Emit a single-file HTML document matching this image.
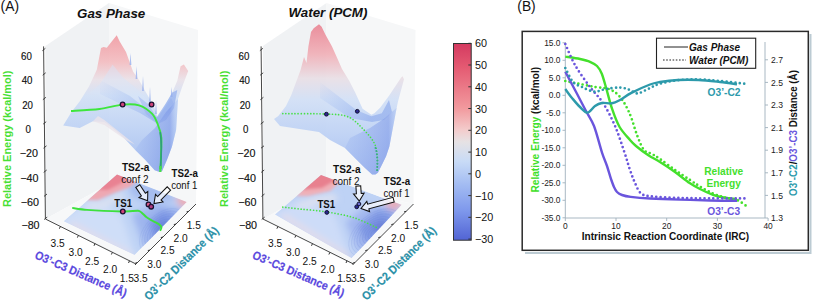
<!DOCTYPE html>
<html><head><meta charset="utf-8"><style>
html,body{margin:0;padding:0;background:#fff;}
svg{display:block;font-family:"Liberation Sans", sans-serif;}
</style></head><body>
<svg width="813" height="304" viewBox="0 0 813 304">
<text x="0.6" y="10.6" font-size="13.8" fill="#111">(A)</text>
<defs>
<linearGradient id="gs1" gradientUnits="userSpaceOnUse" x1="0" y1="35" x2="0" y2="170">
 <stop offset="0" stop-color="#f0949c"/><stop offset="0.2" stop-color="#f3b8bc"/>
 <stop offset="0.33" stop-color="#e9dfe6"/><stop offset="0.45" stop-color="#d0dff6"/>
 <stop offset="0.7" stop-color="#b8cef4"/><stop offset="1" stop-color="#9ab5ee"/></linearGradient>
<linearGradient id="ws1" gradientUnits="userSpaceOnUse" x1="0" y1="24" x2="0" y2="175">
 <stop offset="0" stop-color="#e97c8c"/><stop offset="0.2" stop-color="#f0aab2"/>
 <stop offset="0.36" stop-color="#e8dde4"/><stop offset="0.5" stop-color="#cfdef6"/>
 <stop offset="0.75" stop-color="#b6ccf4"/><stop offset="1" stop-color="#98b2ee"/></linearGradient>
<linearGradient id="rpk" gradientUnits="userSpaceOnUse" x1="0" y1="64" x2="0" y2="118">
 <stop offset="0" stop-color="#f0909a"/><stop offset="0.4" stop-color="#eed0d6"/>
 <stop offset="0.7" stop-color="#cbdaf4"/><stop offset="1" stop-color="#b4c8f2"/></linearGradient>
<linearGradient id="fun" gradientUnits="userSpaceOnUse" x1="130" y1="0" x2="180" y2="0">
 <stop offset="0" stop-color="#c7daf7"/><stop offset="0.6" stop-color="#a8c0f2"/><stop offset="1" stop-color="#8ea9ec"/></linearGradient>
<linearGradient id="cb" x1="0" y1="0" x2="0" y2="1">
 <stop offset="0" stop-color="#d43a60"/><stop offset="0.12" stop-color="#e45a72"/>
 <stop offset="0.33" stop-color="#f29a9e"/><stop offset="0.44" stop-color="#f3cccc"/>
 <stop offset="0.50" stop-color="#e6e2e4"/><stop offset="0.60" stop-color="#c8dbf6"/>
 <stop offset="0.72" stop-color="#a2bbf2"/><stop offset="0.85" stop-color="#7e98ec"/>
 <stop offset="1" stop-color="#5264d4"/></linearGradient>
<radialGradient id="rb1" cx="0.5" cy="0.5" r="0.5"><stop offset="0" stop-color="#f2a3ab"/><stop offset="1" stop-color="#f2a3ab" stop-opacity="0"/></radialGradient>
<radialGradient id="db1" cx="0.5" cy="0.5" r="0.5"><stop offset="0" stop-color="#6f8ee2"/><stop offset="0.6" stop-color="#94acec"/><stop offset="1" stop-color="#94acec" stop-opacity="0"/></radialGradient>
<radialGradient id="wb1" cx="0.5" cy="0.5" r="0.5"><stop offset="0" stop-color="#ece6ee"/><stop offset="1" stop-color="#ece6ee" stop-opacity="0"/></radialGradient>
<filter id="blur15" x="-20%" y="-20%" width="140%" height="140%"><feGaussianBlur stdDeviation="1.8"/></filter>
<filter id="blur3" x="-20%" y="-20%" width="140%" height="140%"><feGaussianBlur stdDeviation="3"/></filter>
</defs>
<polygon points="45.4,46.0 109.0,3.0 109.0,184.0 45.4,219.0" fill="#f0f2f4"/>
<polygon points="109.0,3.0 198.0,30.0 196.0,204.0 109.0,184.0" fill="#f6f7f8"/>
<polygon points="45.4,219.0 109.0,184.0 196.0,204.0 135.0,265.0" fill="#f7f8f9"/>
<clipPath id="flg"><polygon points="63.8,221.2 117.0,174.5 186.7,202.1 134.6,255.0"/></clipPath>
<g clip-path="url(#flg)">
<polygon points="63.8,221.2 117.0,174.5 186.7,202.1 134.6,255.0" fill="#bfd3f5"/>
<g filter="url(#blur3)">
<polygon points="58.0,222.0 90.0,200.0 120.0,212.0 136.0,258.0 100.0,245.0" fill="#cfdef8"/>
<polygon points="70.0,226.0 134.6,258.0 130.0,252.0 72.0,222.0" fill="#e8dce6"/>
<polygon points="128.0,183.0 160.0,186.0 178.0,200.0 150.0,204.0 132.0,196.0" fill="#a6bdef"/>
<polygon points="132.0,214.0 156.0,204.0 182.0,208.0 178.0,244.0 146.0,252.0" fill="#9fb6ee"/>
<polygon points="148.0,222.0 162.0,210.0 176.0,214.0 170.0,240.0 154.0,244.0" fill="#809ae6"/>
<polygon points="155.0,226.0 164.0,218.0 170.0,222.0 165.0,234.0 158.0,236.0" fill="#6c86dc"/>
<polygon points="175.0,197.0 190.0,196.0 192.0,205.0 181.0,207.0" fill="#f0aab2"/>
<polygon points="86.0,203.0 104.0,200.0 120.0,193.0 126.0,197.0 108.0,206.0 90.0,208.0" fill="#dde2f0"/>
</g>
<g filter="url(#blur15)">
<polygon points="86.0,200.0 117.0,168.0 140.0,178.0 130.0,187.0 114.0,193.0 98.0,200.0" fill="#eea8b2"/>
<polygon points="98.0,190.0 117.0,168.0 132.0,175.0 122.0,183.0 108.0,190.0" fill="#e98292"/>
</g>
<ellipse cx="162" cy="231" rx="5.0" ry="3.0" transform="rotate(-45 162 231)" fill="none" stroke="#6a84da" stroke-opacity="0.40" stroke-width="0.6"/>
<ellipse cx="162" cy="231" rx="8.2" ry="4.9" transform="rotate(-45 162 231)" fill="none" stroke="#6a84da" stroke-opacity="0.37" stroke-width="0.6"/>
<ellipse cx="162" cy="231" rx="11.4" ry="6.8" transform="rotate(-45 162 231)" fill="none" stroke="#6a84da" stroke-opacity="0.34" stroke-width="0.6"/>
<ellipse cx="162" cy="231" rx="14.6" ry="8.8" transform="rotate(-45 162 231)" fill="none" stroke="#6a84da" stroke-opacity="0.31" stroke-width="0.6"/>
<ellipse cx="162" cy="231" rx="17.8" ry="10.7" transform="rotate(-45 162 231)" fill="none" stroke="#6a84da" stroke-opacity="0.28" stroke-width="0.6"/>
<ellipse cx="162" cy="231" rx="21.0" ry="12.6" transform="rotate(-45 162 231)" fill="none" stroke="#6a84da" stroke-opacity="0.25" stroke-width="0.6"/>
<ellipse cx="162" cy="231" rx="24.2" ry="14.5" transform="rotate(-45 162 231)" fill="none" stroke="#6a84da" stroke-opacity="0.22" stroke-width="0.6"/>
<ellipse cx="162" cy="231" rx="27.4" ry="16.4" transform="rotate(-45 162 231)" fill="none" stroke="#6a84da" stroke-opacity="0.19" stroke-width="0.6"/>
</g>
<path d="M72.2,207.9 C73.7,208.1 82.0,209.5 87.0,209.9 C92.0,210.3 117.1,211.4 122.2,211.5 C127.3,211.6 136.1,210.7 138.0,210.8 C139.9,210.9 140.6,211.8 141.5,212.5 C142.4,213.2 145.5,216.5 146.6,217.3 C147.7,218.1 150.8,219.8 152.0,220.5 C153.2,221.2 157.9,223.4 158.8,224.1 C159.8,224.8 161.4,226.8 161.5,227.5 C161.6,228.2 160.2,230.6 160.1,230.9" fill="none" stroke="#3ee03e" stroke-width="1.9"/>
<circle cx="122.8" cy="211.5" r="2.3" fill="#d0457a" stroke="#1a1030" stroke-width="1.3"/>
<circle cx="148.5" cy="204.4" r="2.3" fill="#e05a8a" stroke="#1a1030" stroke-width="1.3"/>
<circle cx="151.2" cy="206.7" r="2.3" fill="#b03a80" stroke="#1a1030" stroke-width="1.3"/>
<polygon points="63.2,125.5 71.5,112.0 80.0,101.0 89.0,86.5 96.8,69.7 101.0,48.0 103.6,47.1 106.8,47.8 116.7,35.3 119.7,41.5 126.0,52.0 133.0,71.5 139.0,80.0 144.6,90.0 153.8,106.0 157.6,117.2 159.5,116.3 166.4,102.5 172.3,92.6 177.3,80.8 180.6,66.2 183.9,64.5 188.2,71.0 182.2,86.7 178.0,99.0 176.1,130.0 172.0,146.4 167.1,159.6 162.1,171.1 159.7,172.0 154.7,170.3 144.9,159.6 135.0,149.7 124.0,138.0 112.6,128.0 104.4,122.0 92.9,121.3 79.7,128.0" fill="url(#gs1)" fill-opacity="0.85"/>
<defs><linearGradient id="band" gradientUnits="userSpaceOnUse" x1="100" y1="80" x2="160" y2="118"><stop offset="0" stop-color="#aac2f2" stop-opacity="0"/><stop offset="0.5" stop-color="#aac2f2" stop-opacity="0.5"/><stop offset="1" stop-color="#9ab4ee" stop-opacity="0.8"/></linearGradient></defs>
<polygon points="112.6,64.5 123.0,77.6 139.0,90.8 150.0,104.0 157.6,117.2 140.0,112.0 110.0,98.0 90.0,93.0 100.0,84.0" fill="#d8e4f8" fill-opacity="0.45"/>
<polygon points="100.0,80.0 130.0,96.0 156.6,117.3 166.4,102.5 172.3,92.6 177.3,90.0 174.0,108.0 166.0,120.0 158.0,124.0 140.0,113.0 100.0,94.0" fill="url(#band)"/>
<polygon points="138.0,96.0 148.0,104.0 157.2,117.6 163.0,110.0 171.0,98.0 174.0,104.0 166.0,116.0 158.0,124.0 146.0,114.0" fill="#93adee" fill-opacity="0.45"/>
<polygon points="129.6,65.0 130.5,53.0 131.4,65.0" fill="#93acee" fill-opacity="0.75"/>
<polygon points="135.6,79.0 136.5,66.0 137.4,79.0" fill="#93acee" fill-opacity="0.75"/>
<polygon points="142.1,91.0 143.0,76.0 143.9,91.0" fill="#93acee" fill-opacity="0.75"/>
<polygon points="149.1,103.0 150.0,87.0 150.9,103.0" fill="#93acee" fill-opacity="0.75"/>
<polygon points="155.1,114.0 156.0,100.0 156.9,114.0" fill="#93acee" fill-opacity="0.75"/>
<polygon points="170.7,97.0 171.6,87.0 172.5,97.0" fill="#93acee" fill-opacity="0.75"/>
<polygon points="92.9,121.3 98.0,116.0 104.4,120.0 135.0,144.4 126.0,140.0 104.4,125.0" fill="#ebe3ea" fill-opacity="0.8"/>
<defs><linearGradient id="fung" gradientUnits="userSpaceOnUse" x1="135" y1="0" x2="176" y2="0"><stop offset="0" stop-color="#a8c0f2" stop-opacity="0.5"/><stop offset="0.55" stop-color="#8aa4ea" stop-opacity="0.6"/><stop offset="0.85" stop-color="#7f9ae8" stop-opacity="0.65"/><stop offset="1" stop-color="#a8c0f2" stop-opacity="0.4"/></linearGradient></defs>
<polygon points="159.7,172.0 154.7,170.3 144.9,159.6 135.0,149.7 142.0,140.0 155.0,128.0 166.0,112.0 178.0,99.0 176.1,130.0 172.0,146.4 167.1,159.6 162.1,171.1" fill="url(#fung)"/>
<path d="M71.0,111.0 C75.8,110.7 90.9,110.1 99.5,109.0 C108.1,107.9 116.0,105.2 122.6,104.6 C129.2,104.0 134.1,103.8 139.0,105.3 C143.9,106.8 148.8,110.4 152.0,113.7 C155.2,117.0 156.4,121.0 158.0,125.0 C159.6,128.9 160.8,132.4 161.3,137.4 C161.8,142.4 161.1,149.7 161.0,155.0 C160.9,160.3 160.6,166.7 160.5,169.0" fill="none" stroke="#3ee63e" stroke-width="1.9"/>
<path d="M160.2,132 C161.5,140 161.5,155 160.5,169" fill="none" stroke="#2fa07a" stroke-width="1.7"/>
<path d="M160.5,166 L160.3,172" stroke="#44e044" stroke-width="2.2"/>
<circle cx="122.6" cy="104.5" r="2.3" fill="#d0457a" stroke="#1a1030" stroke-width="1.3"/>
<circle cx="151.6" cy="104.5" r="2.3" fill="#d0457a" stroke="#1a1030" stroke-width="1.3"/>
<polygon points="262.9,46.0 326.5,3.0 326.5,184.0 262.9,219.0" fill="#f0f2f4"/>
<polygon points="326.5,3.0 415.5,30.0 413.5,204.0 326.5,184.0" fill="#f6f7f8"/>
<polygon points="262.9,219.0 326.5,184.0 413.5,204.0 352.5,265.0" fill="#f7f8f9"/>
<clipPath id="flw"><polygon points="275.0,214.5 321.0,175.0 401.7,204.7 351.6,258.3"/></clipPath>
<g clip-path="url(#flw)">
<polygon points="275.0,214.5 321.0,175.0 401.7,204.7 351.6,258.3" fill="#bed2f5"/>
<g filter="url(#blur3)">
<polygon points="270.0,215.0 300.0,200.0 335.0,215.0 350.0,258.0 310.0,240.0" fill="#cddcf8"/>
<polygon points="282.0,218.0 351.6,261.0 348.0,254.0 284.0,214.0" fill="#e8dce6"/>
<polygon points="346.0,222.0 368.0,204.0 398.0,208.0 390.0,246.0 358.0,252.0" fill="#a3b8ef"/>
<polygon points="358.0,226.0 378.0,210.0 394.0,214.0 386.0,240.0 366.0,244.0" fill="#8099e4"/>
<polygon points="370.0,228.0 382.0,220.0 388.0,224.0 381.0,236.0" fill="#6a80d8"/>
<polygon points="383.0,203.0 396.0,199.0 405.0,205.0 392.0,210.0" fill="#f0aab2"/>
<polygon points="296.0,203.0 315.0,197.0 335.0,194.0 338.0,200.0 318.0,204.0 300.0,208.0" fill="#dfe2f0"/>
</g>
<g filter="url(#blur15)">
<polygon points="296.0,196.0 321.0,170.0 340.0,182.0 330.0,191.0 308.0,196.0" fill="#efb0b8"/>
<polygon points="302.0,190.0 321.0,170.0 336.0,180.0 322.0,188.0" fill="#e8808e"/>
</g>
<ellipse cx="375" cy="233" rx="5.0" ry="3.0" transform="rotate(-40 375 233)" fill="none" stroke="#6a84da" stroke-opacity="0.45" stroke-width="0.6"/>
<ellipse cx="375" cy="233" rx="8.2" ry="4.9" transform="rotate(-40 375 233)" fill="none" stroke="#6a84da" stroke-opacity="0.42" stroke-width="0.6"/>
<ellipse cx="375" cy="233" rx="11.4" ry="6.8" transform="rotate(-40 375 233)" fill="none" stroke="#6a84da" stroke-opacity="0.39" stroke-width="0.6"/>
<ellipse cx="375" cy="233" rx="14.6" ry="8.8" transform="rotate(-40 375 233)" fill="none" stroke="#6a84da" stroke-opacity="0.36" stroke-width="0.6"/>
<ellipse cx="375" cy="233" rx="17.8" ry="10.7" transform="rotate(-40 375 233)" fill="none" stroke="#6a84da" stroke-opacity="0.33" stroke-width="0.6"/>
<ellipse cx="375" cy="233" rx="21.0" ry="12.6" transform="rotate(-40 375 233)" fill="none" stroke="#6a84da" stroke-opacity="0.30" stroke-width="0.6"/>
<ellipse cx="375" cy="233" rx="24.2" ry="14.5" transform="rotate(-40 375 233)" fill="none" stroke="#6a84da" stroke-opacity="0.27" stroke-width="0.6"/>
<ellipse cx="375" cy="233" rx="27.4" ry="16.4" transform="rotate(-40 375 233)" fill="none" stroke="#6a84da" stroke-opacity="0.24" stroke-width="0.6"/>
<ellipse cx="375" cy="233" rx="30.6" ry="18.4" transform="rotate(-40 375 233)" fill="none" stroke="#6a84da" stroke-opacity="0.21" stroke-width="0.6"/>
</g>
<path d="M282.8,207.1 C285.7,207.4 292.9,208.2 300.0,209.0 C307.1,209.8 316.7,210.3 325.6,211.7 C334.5,213.1 345.0,215.0 353.5,217.6 C362.0,220.2 372.8,225.8 376.6,227.5" fill="none" stroke="#48e048" stroke-width="1.7" stroke-dasharray="0,3.1" stroke-linecap="round"/>
<circle cx="326.8" cy="212.4" r="1.9" fill="#2a2a90" stroke="#101030" stroke-width="1"/>
<circle cx="358.9" cy="204" r="1.9" fill="#6a6ad0" stroke="#101030" stroke-width="1"/>
<circle cx="356.7" cy="206.8" r="1.9" fill="#2a2a90" stroke="#101030" stroke-width="1"/>
<polygon points="274.0,119.0 278.3,116.0 286.0,106.0 291.3,95.0 296.6,80.8 300.5,70.3 304.0,57.0 306.5,63.0 308.4,46.6 311.0,32.0 313.7,28.2 319.0,24.2 321.6,26.8 325.5,34.7 332.0,46.6 337.4,58.4 342.0,69.0 349.2,80.7 355.2,92.6 362.6,108.8 371.4,114.8 374.4,113.3 380.3,107.4 389.2,95.5 401.0,77.8 402.5,76.3 404.0,79.2 398.0,101.4 396.7,107.8 392.2,131.5 389.4,146.4 386.1,156.3 382.8,162.9 377.9,172.8 375.4,174.4 372.1,174.4 364.7,167.8 354.9,158.0 345.0,148.1 330.0,140.0 319.0,132.0 280.0,126.0" fill="url(#ws1)" fill-opacity="0.85"/>
<defs><linearGradient id="bandw" gradientUnits="userSpaceOnUse" x1="320" y1="80" x2="372" y2="116"><stop offset="0" stop-color="#aac2f2" stop-opacity="0"/><stop offset="0.5" stop-color="#aac2f2" stop-opacity="0.5"/><stop offset="1" stop-color="#9ab4ee" stop-opacity="0.8"/></linearGradient></defs>
<polygon points="320.0,82.0 356.6,110.3 371.4,116.2 381.8,113.3 389.0,100.0 392.0,112.0 384.0,120.0 372.0,122.0 350.0,118.0 320.0,98.0" fill="url(#bandw)"/>
<defs><linearGradient id="funw" gradientUnits="userSpaceOnUse" x1="345" y1="0" x2="396" y2="0"><stop offset="0" stop-color="#a8c0f2" stop-opacity="0.5"/><stop offset="0.6" stop-color="#8aa4ea" stop-opacity="0.55"/><stop offset="0.85" stop-color="#7f9ae8" stop-opacity="0.6"/><stop offset="1" stop-color="#a8c0f2" stop-opacity="0.4"/></linearGradient></defs>
<polygon points="372.1,174.4 364.7,167.8 354.9,158.0 345.0,148.1 350.0,138.0 370.0,128.0 385.0,118.0 396.7,107.8 392.2,131.5 389.4,146.4 386.1,156.3 382.8,162.9 377.9,172.8 375.4,174.4" fill="url(#funw)"/>
<path d="M282.8,113.6 C290.0,113.7 315.2,113.5 326.0,114.0 C336.8,114.5 341.7,114.3 347.8,116.7 C353.9,119.1 358.2,124.1 362.6,128.5 C367.0,132.9 371.9,138.4 374.4,143.3 C376.9,148.2 377.0,153.2 377.4,158.0 C377.8,162.8 377.1,169.7 377.0,172.0" fill="none" stroke="#48e048" stroke-width="1.7" stroke-dasharray="0,3.1" stroke-linecap="round"/>
<path d="M375.5,148 C377.5,155 377.6,162 377,172" fill="none" stroke="#3aa88a" stroke-width="1.9" stroke-dasharray="0,3.2" stroke-linecap="round"/>
<circle cx="326.4" cy="114.2" r="1.9" fill="#2a2a90" stroke="#101030" stroke-width="1"/>
<circle cx="357.3" cy="111.3" r="1.9" fill="#2a2a90" stroke="#101030" stroke-width="1"/>
<line x1="43.6" y1="46.4" x2="45.4" y2="219" stroke="#333" stroke-width="0.9"/>
<line x1="42.4" y1="50.7" x2="45.4" y2="48.3" stroke="#333" stroke-width="0.9"/>
<text x="21.1" y="59.8" font-size="10.3" fill="#111" stroke="#111" stroke-width="0.15" textLength="10.8" lengthAdjust="spacingAndGlyphs">60</text>
<line x1="42.7" y1="75.2" x2="45.7" y2="72.8" stroke="#333" stroke-width="0.9"/>
<text x="21.7" y="84.3" font-size="10.3" fill="#111" stroke="#111" stroke-width="0.15" textLength="10.8" lengthAdjust="spacingAndGlyphs">40</text>
<line x1="42.9" y1="99.7" x2="45.9" y2="97.3" stroke="#333" stroke-width="0.9"/>
<text x="22.2" y="108.8" font-size="10.3" fill="#111" stroke="#111" stroke-width="0.15" textLength="10.8" lengthAdjust="spacingAndGlyphs">20</text>
<line x1="43.2" y1="124.1" x2="46.2" y2="121.7" stroke="#333" stroke-width="0.9"/>
<text x="25.5" y="133.2" font-size="10.3" fill="#111" stroke="#111" stroke-width="0.15" textLength="5.4" lengthAdjust="spacingAndGlyphs">0</text>
<line x1="43.5" y1="148.2" x2="46.5" y2="145.8" stroke="#333" stroke-width="0.9"/>
<text x="19.7" y="157.3" font-size="10.3" fill="#111" stroke="#111" stroke-width="0.15" textLength="18.2" lengthAdjust="spacingAndGlyphs">−20</text>
<line x1="43.7" y1="172.4" x2="46.7" y2="170.0" stroke="#333" stroke-width="0.9"/>
<text x="20.2" y="181.5" font-size="10.3" fill="#111" stroke="#111" stroke-width="0.15" textLength="18.2" lengthAdjust="spacingAndGlyphs">−40</text>
<line x1="44.0" y1="196.4" x2="47.0" y2="194.0" stroke="#333" stroke-width="0.9"/>
<text x="20.8" y="205.5" font-size="10.3" fill="#111" stroke="#111" stroke-width="0.15" textLength="18.2" lengthAdjust="spacingAndGlyphs">−60</text>
<line x1="44.2" y1="219.5" x2="47.2" y2="217.1" stroke="#333" stroke-width="0.9"/>
<text x="21.4" y="228.6" font-size="10.3" fill="#111" stroke="#111" stroke-width="0.15" textLength="18.2" lengthAdjust="spacingAndGlyphs">−80</text>
<line x1="45.4" y1="219" x2="136" y2="264" stroke="#333" stroke-width="0.9"/>
<line x1="196" y1="204" x2="135" y2="265" stroke="#333" stroke-width="0.9"/>
<line x1="60.4" y1="226.5" x2="59.4" y2="228.7" stroke="#333" stroke-width="1"/>
<line x1="78.4" y1="235.4" x2="77.4" y2="237.6" stroke="#333" stroke-width="1"/>
<line x1="95.0" y1="243.6" x2="94.0" y2="245.8" stroke="#333" stroke-width="1"/>
<line x1="112.4" y1="252.3" x2="111.4" y2="254.5" stroke="#333" stroke-width="1"/>
<line x1="129.5" y1="260.8" x2="128.5" y2="263.0" stroke="#333" stroke-width="1"/>
<line x1="188.7" y1="211.3" x2="186.5" y2="211.9" stroke="#333" stroke-width="1"/>
<line x1="176.0" y1="224.0" x2="173.8" y2="224.6" stroke="#333" stroke-width="1"/>
<line x1="163.0" y1="237.0" x2="160.8" y2="237.6" stroke="#333" stroke-width="1"/>
<line x1="150.0" y1="250.0" x2="147.8" y2="250.6" stroke="#333" stroke-width="1"/>
<line x1="137.5" y1="262.5" x2="135.3" y2="263.1" stroke="#333" stroke-width="1"/>
<text x="57.6" y="247.1" font-size="10.2" text-anchor="middle" fill="#111">3.5</text>
<text x="75.6" y="256.2" font-size="10.2" text-anchor="middle" fill="#111">3.0</text>
<text x="92.2" y="264.6" font-size="10.2" text-anchor="middle" fill="#111">2.5</text>
<text x="110.2" y="272.8" font-size="10.2" text-anchor="middle" fill="#111">2.0</text>
<text x="126.8" y="281.6" font-size="10.2" text-anchor="middle" fill="#111">1.5</text>
<text x="193.8" y="229.29999999999998" font-size="10.2" text-anchor="middle" fill="#111">1.5</text>
<text x="180.7" y="241.6" font-size="10.2" text-anchor="middle" fill="#111">2.0</text>
<text x="167.5" y="254.4" font-size="10.2" text-anchor="middle" fill="#111">2.5</text>
<text x="154.4" y="267.90000000000003" font-size="10.2" text-anchor="middle" fill="#111">3.0</text>
<text x="140.6" y="281.8" font-size="10.2" text-anchor="middle" fill="#111">3.5</text>
<text transform="translate(34,258) rotate(23.5)" font-size="11.8" font-weight="bold" fill="#5a48de" stroke="#5a48de" stroke-width="0.2" textLength="99" lengthAdjust="spacingAndGlyphs">O3’-C3 Distance (Å)</text>
<text transform="translate(149,301) rotate(-44.6)" font-size="11.8" font-weight="bold" fill="#2a90a8" stroke="#2a90a8" stroke-width="0.2" textLength="99" lengthAdjust="spacingAndGlyphs">O3’-C2 Distance (Å)</text>
<text transform="translate(10.6,207) rotate(-90)" font-size="10" font-weight="bold" fill="#48e034" textLength="136.5" lengthAdjust="spacingAndGlyphs">Relative Energy (kcal/mol)</text>
<line x1="261.1" y1="46.4" x2="262.9" y2="219" stroke="#333" stroke-width="0.9"/>
<line x1="259.9" y1="50.7" x2="262.9" y2="48.3" stroke="#333" stroke-width="0.9"/>
<text x="238.6" y="59.8" font-size="10.3" fill="#111" stroke="#111" stroke-width="0.15" textLength="10.8" lengthAdjust="spacingAndGlyphs">60</text>
<line x1="260.2" y1="75.2" x2="263.2" y2="72.8" stroke="#333" stroke-width="0.9"/>
<text x="239.2" y="84.3" font-size="10.3" fill="#111" stroke="#111" stroke-width="0.15" textLength="10.8" lengthAdjust="spacingAndGlyphs">40</text>
<line x1="260.4" y1="99.7" x2="263.4" y2="97.3" stroke="#333" stroke-width="0.9"/>
<text x="239.7" y="108.8" font-size="10.3" fill="#111" stroke="#111" stroke-width="0.15" textLength="10.8" lengthAdjust="spacingAndGlyphs">20</text>
<line x1="260.7" y1="124.1" x2="263.7" y2="121.7" stroke="#333" stroke-width="0.9"/>
<text x="243.0" y="133.2" font-size="10.3" fill="#111" stroke="#111" stroke-width="0.15" textLength="5.4" lengthAdjust="spacingAndGlyphs">0</text>
<line x1="261.0" y1="148.2" x2="264.0" y2="145.8" stroke="#333" stroke-width="0.9"/>
<text x="237.2" y="157.3" font-size="10.3" fill="#111" stroke="#111" stroke-width="0.15" textLength="18.2" lengthAdjust="spacingAndGlyphs">−20</text>
<line x1="261.2" y1="172.4" x2="264.2" y2="170.0" stroke="#333" stroke-width="0.9"/>
<text x="237.8" y="181.5" font-size="10.3" fill="#111" stroke="#111" stroke-width="0.15" textLength="18.2" lengthAdjust="spacingAndGlyphs">−40</text>
<line x1="261.5" y1="196.4" x2="264.5" y2="194.0" stroke="#333" stroke-width="0.9"/>
<text x="238.3" y="205.5" font-size="10.3" fill="#111" stroke="#111" stroke-width="0.15" textLength="18.2" lengthAdjust="spacingAndGlyphs">−60</text>
<line x1="261.7" y1="219.5" x2="264.7" y2="217.1" stroke="#333" stroke-width="0.9"/>
<text x="238.9" y="228.6" font-size="10.3" fill="#111" stroke="#111" stroke-width="0.15" textLength="18.2" lengthAdjust="spacingAndGlyphs">−80</text>
<line x1="262.9" y1="219" x2="353.5" y2="264" stroke="#333" stroke-width="0.9"/>
<line x1="413.5" y1="204" x2="352.5" y2="265" stroke="#333" stroke-width="0.9"/>
<line x1="277.9" y1="226.5" x2="276.9" y2="228.7" stroke="#333" stroke-width="1"/>
<line x1="295.9" y1="235.4" x2="294.9" y2="237.6" stroke="#333" stroke-width="1"/>
<line x1="312.5" y1="243.6" x2="311.5" y2="245.8" stroke="#333" stroke-width="1"/>
<line x1="329.9" y1="252.3" x2="328.9" y2="254.5" stroke="#333" stroke-width="1"/>
<line x1="347.0" y1="260.8" x2="346.0" y2="263.0" stroke="#333" stroke-width="1"/>
<line x1="406.2" y1="211.3" x2="404.0" y2="211.9" stroke="#333" stroke-width="1"/>
<line x1="393.5" y1="224.0" x2="391.3" y2="224.6" stroke="#333" stroke-width="1"/>
<line x1="380.5" y1="237.0" x2="378.3" y2="237.6" stroke="#333" stroke-width="1"/>
<line x1="367.5" y1="250.0" x2="365.3" y2="250.6" stroke="#333" stroke-width="1"/>
<line x1="355.0" y1="262.5" x2="352.8" y2="263.1" stroke="#333" stroke-width="1"/>
<text x="275.1" y="247.1" font-size="10.2" text-anchor="middle" fill="#111">3.5</text>
<text x="293.1" y="256.2" font-size="10.2" text-anchor="middle" fill="#111">3.0</text>
<text x="309.7" y="264.6" font-size="10.2" text-anchor="middle" fill="#111">2.5</text>
<text x="327.7" y="272.8" font-size="10.2" text-anchor="middle" fill="#111">2.0</text>
<text x="344.3" y="281.6" font-size="10.2" text-anchor="middle" fill="#111">1.5</text>
<text x="411.3" y="229.29999999999998" font-size="10.2" text-anchor="middle" fill="#111">1.5</text>
<text x="398.2" y="241.6" font-size="10.2" text-anchor="middle" fill="#111">2.0</text>
<text x="385.0" y="254.4" font-size="10.2" text-anchor="middle" fill="#111">2.5</text>
<text x="371.9" y="267.90000000000003" font-size="10.2" text-anchor="middle" fill="#111">3.0</text>
<text x="358.1" y="281.8" font-size="10.2" text-anchor="middle" fill="#111">3.5</text>
<text transform="translate(251.5,258) rotate(23.5)" font-size="11.8" font-weight="bold" fill="#5a48de" stroke="#5a48de" stroke-width="0.2" textLength="99" lengthAdjust="spacingAndGlyphs">O3’-C3 Distance (Å)</text>
<text transform="translate(366.5,301) rotate(-44.6)" font-size="11.8" font-weight="bold" fill="#2a90a8" stroke="#2a90a8" stroke-width="0.2" textLength="99" lengthAdjust="spacingAndGlyphs">O3’-C2 Distance (Å)</text>
<text transform="translate(228.1,207) rotate(-90)" font-size="10" font-weight="bold" fill="#48e034" textLength="136.5" lengthAdjust="spacingAndGlyphs">Relative Energy (kcal/mol)</text>
<text x="77" y="18" font-size="12.8" font-weight="bold" font-style="italic" fill="#111" textLength="68.3" lengthAdjust="spacingAndGlyphs">Gas Phase</text>
<text x="288.5" y="16.5" font-size="12.8" font-weight="bold" font-style="italic" fill="#111" textLength="78.9" lengthAdjust="spacingAndGlyphs">Water (PCM)</text>
<text x="121.9" y="171.2" font-size="10.4" font-weight="bold" fill="#111" textLength="27.5" lengthAdjust="spacingAndGlyphs">TS2-a</text>
<text x="121.3" y="182.6" font-size="10.2" fill="#111" textLength="27.2" lengthAdjust="spacingAndGlyphs">conf 2</text>
<text x="171.5" y="177.2" font-size="10.4" font-weight="bold" fill="#111" textLength="26.5" lengthAdjust="spacingAndGlyphs">TS2-a</text>
<text x="171.2" y="188.6" font-size="10.2" fill="#111" textLength="26.2" lengthAdjust="spacingAndGlyphs">conf 1</text>
<text x="114.3" y="206.6" font-size="10.2" font-weight="bold" fill="#111" textLength="17.8" lengthAdjust="spacingAndGlyphs">TS1</text>
<polygon points="139.8,184.8 145.4,193.2 147.8,191.6 147.6,200.8 139.0,197.5 141.4,195.9 135.8,187.4" fill="#fff" fill-opacity="0.7" stroke="#111" stroke-width="1.05"/>
<polygon points="170.6,190.2 161.0,199.9 163.0,201.9 154.0,203.5 155.5,194.4 157.6,196.5 167.2,186.8" fill="#fff" fill-opacity="0.7" stroke="#111" stroke-width="1.05"/>
<text x="333" y="173" font-size="10.4" font-weight="bold" fill="#111" textLength="27.5" lengthAdjust="spacingAndGlyphs">TS2-a</text>
<text x="332.4" y="184.5" font-size="10.2" fill="#111" textLength="27.2" lengthAdjust="spacingAndGlyphs">conf 2</text>
<text x="383.7" y="185" font-size="10.4" font-weight="bold" fill="#111" textLength="26.5" lengthAdjust="spacingAndGlyphs">TS2-a</text>
<text x="383.4" y="196.5" font-size="10.2" fill="#111" textLength="26.2" lengthAdjust="spacingAndGlyphs">conf 1</text>
<text x="317.4" y="207.5" font-size="10.2" font-weight="bold" fill="#111" textLength="17.8" lengthAdjust="spacingAndGlyphs">TS1</text>
<polygon points="360.7,185.8 361.2,193.4 364.1,193.2 359.3,201.0 353.5,193.9 356.4,193.7 355.9,186.2" fill="#fff" fill-opacity="0.7" stroke="#111" stroke-width="1.05"/>
<polygon points="394.2,201.9 368.9,208.8 369.6,211.6 361.0,208.5 366.8,201.4 367.6,204.2 393.0,197.3" fill="#fff" fill-opacity="0.7" stroke="#111" stroke-width="1.05"/>
<rect x="453.5" y="43.5" width="17.7" height="196.7" fill="url(#cb)" stroke="#333" stroke-width="1"/>
<line x1="468.3" y1="43.3" x2="471.2" y2="43.3" stroke="#333" stroke-width="1"/>
<text x="475" y="47.2" font-size="10.8" fill="#111">60</text>
<line x1="468.3" y1="65.0" x2="471.2" y2="65.0" stroke="#333" stroke-width="1"/>
<text x="475" y="69.0" font-size="10.8" fill="#111">50</text>
<line x1="468.3" y1="86.8" x2="471.2" y2="86.8" stroke="#333" stroke-width="1"/>
<text x="475" y="90.7" font-size="10.8" fill="#111">40</text>
<line x1="468.3" y1="108.5" x2="471.2" y2="108.5" stroke="#333" stroke-width="1"/>
<text x="475" y="112.5" font-size="10.8" fill="#111">30</text>
<line x1="468.3" y1="130.3" x2="471.2" y2="130.3" stroke="#333" stroke-width="1"/>
<text x="475" y="134.2" font-size="10.8" fill="#111">20</text>
<line x1="468.3" y1="152.1" x2="471.2" y2="152.1" stroke="#333" stroke-width="1"/>
<text x="475" y="156.0" font-size="10.8" fill="#111">10</text>
<line x1="468.3" y1="173.8" x2="471.2" y2="173.8" stroke="#333" stroke-width="1"/>
<text x="475" y="177.7" font-size="10.8" fill="#111">0</text>
<line x1="468.3" y1="195.6" x2="471.2" y2="195.6" stroke="#333" stroke-width="1"/>
<text x="475" y="199.5" font-size="10.8" fill="#111">−10</text>
<line x1="468.3" y1="217.3" x2="471.2" y2="217.3" stroke="#333" stroke-width="1"/>
<text x="475" y="221.2" font-size="10.8" fill="#111">−20</text>
<line x1="468.3" y1="239.1" x2="471.2" y2="239.1" stroke="#333" stroke-width="1"/>
<text x="475" y="243.0" font-size="10.8" fill="#111">−30</text>
<rect x="525" y="252" width="285" height="2" fill="#bccbd3"/>
<rect x="809.5" y="34" width="2" height="220" fill="#bccbd3"/>
<rect x="522.2" y="31.4" width="286.1" height="218.9" fill="#fff" stroke="#2a2a2a" stroke-width="1.5"/>
<line x1="565.3" y1="42" x2="565.3" y2="218" stroke="#9fb0bc" stroke-width="0.9"/>
<line x1="565.3" y1="218" x2="765" y2="218" stroke="#9fb0bc" stroke-width="0.9"/>
<line x1="765" y1="42" x2="765" y2="218" stroke="#9fb0bc" stroke-width="0.9"/>
<line x1="562.5" y1="42.8" x2="565.3" y2="42.8" stroke="#9fb0bc" stroke-width="0.9"/>
<text x="560.5" y="45.9" font-size="8.4" text-anchor="end" fill="#222">15.0</text>
<line x1="562.5" y1="60.3" x2="565.3" y2="60.3" stroke="#9fb0bc" stroke-width="0.9"/>
<text x="560.5" y="63.4" font-size="8.4" text-anchor="end" fill="#222">10.0</text>
<line x1="562.5" y1="77.8" x2="565.3" y2="77.8" stroke="#9fb0bc" stroke-width="0.9"/>
<text x="560.5" y="80.89999999999999" font-size="8.4" text-anchor="end" fill="#222">5.0</text>
<line x1="562.5" y1="95.3" x2="565.3" y2="95.3" stroke="#9fb0bc" stroke-width="0.9"/>
<text x="560.5" y="98.39999999999999" font-size="8.4" text-anchor="end" fill="#222">0.0</text>
<line x1="562.5" y1="112.8" x2="565.3" y2="112.8" stroke="#9fb0bc" stroke-width="0.9"/>
<text x="560.5" y="115.89999999999999" font-size="8.4" text-anchor="end" fill="#222">-5.0</text>
<line x1="562.5" y1="130.3" x2="565.3" y2="130.3" stroke="#9fb0bc" stroke-width="0.9"/>
<text x="560.5" y="133.4" font-size="8.4" text-anchor="end" fill="#222">-10.0</text>
<line x1="562.5" y1="147.8" x2="565.3" y2="147.8" stroke="#9fb0bc" stroke-width="0.9"/>
<text x="560.5" y="150.9" font-size="8.4" text-anchor="end" fill="#222">-15.0</text>
<line x1="562.5" y1="165.3" x2="565.3" y2="165.3" stroke="#9fb0bc" stroke-width="0.9"/>
<text x="560.5" y="168.4" font-size="8.4" text-anchor="end" fill="#222">-20.0</text>
<line x1="562.5" y1="182.8" x2="565.3" y2="182.8" stroke="#9fb0bc" stroke-width="0.9"/>
<text x="560.5" y="185.9" font-size="8.4" text-anchor="end" fill="#222">-25.0</text>
<line x1="562.5" y1="200.3" x2="565.3" y2="200.3" stroke="#9fb0bc" stroke-width="0.9"/>
<text x="560.5" y="203.4" font-size="8.4" text-anchor="end" fill="#222">-30.0</text>
<line x1="562.5" y1="217.8" x2="565.3" y2="217.8" stroke="#9fb0bc" stroke-width="0.9"/>
<text x="560.5" y="220.9" font-size="8.4" text-anchor="end" fill="#222">-35.0</text>
<line x1="565.3" y1="218" x2="565.3" y2="221" stroke="#9fb0bc" stroke-width="0.9"/>
<text x="565.3" y="228.9" font-size="8.4" text-anchor="middle" fill="#222">0</text>
<line x1="616.0" y1="218" x2="616.0" y2="221" stroke="#9fb0bc" stroke-width="0.9"/>
<text x="616.0" y="228.9" font-size="8.4" text-anchor="middle" fill="#222">10</text>
<line x1="666.6999999999999" y1="218" x2="666.6999999999999" y2="221" stroke="#9fb0bc" stroke-width="0.9"/>
<text x="666.6999999999999" y="228.9" font-size="8.4" text-anchor="middle" fill="#222">20</text>
<line x1="717.4" y1="218" x2="717.4" y2="221" stroke="#9fb0bc" stroke-width="0.9"/>
<text x="717.4" y="228.9" font-size="8.4" text-anchor="middle" fill="#222">30</text>
<line x1="768.0999999999999" y1="218" x2="768.0999999999999" y2="221" stroke="#9fb0bc" stroke-width="0.9"/>
<text x="768.0999999999999" y="228.9" font-size="8.4" text-anchor="middle" fill="#222">40</text>
<line x1="765" y1="218.0" x2="768" y2="218.0" stroke="#9fb0bc" stroke-width="0.9"/>
<text x="771" y="221.2" font-size="8.6" fill="#222">1.3</text>
<line x1="765" y1="195.4" x2="768" y2="195.4" stroke="#9fb0bc" stroke-width="0.9"/>
<text x="771" y="198.6" font-size="8.6" fill="#222">1.5</text>
<line x1="765" y1="172.79999999999998" x2="768" y2="172.79999999999998" stroke="#9fb0bc" stroke-width="0.9"/>
<text x="771" y="175.99999999999997" font-size="8.6" fill="#222">1.7</text>
<line x1="765" y1="150.2" x2="768" y2="150.2" stroke="#9fb0bc" stroke-width="0.9"/>
<text x="771" y="153.39999999999998" font-size="8.6" fill="#222">1.9</text>
<line x1="765" y1="127.6" x2="768" y2="127.6" stroke="#9fb0bc" stroke-width="0.9"/>
<text x="771" y="130.79999999999998" font-size="8.6" fill="#222">2.1</text>
<line x1="765" y1="105.00000000000003" x2="768" y2="105.00000000000003" stroke="#9fb0bc" stroke-width="0.9"/>
<text x="771" y="108.20000000000003" font-size="8.6" fill="#222">2.3</text>
<line x1="765" y1="82.4" x2="768" y2="82.4" stroke="#9fb0bc" stroke-width="0.9"/>
<text x="771" y="85.60000000000001" font-size="8.6" fill="#222">2.5</text>
<line x1="765" y1="59.79999999999998" x2="768" y2="59.79999999999998" stroke="#9fb0bc" stroke-width="0.9"/>
<text x="771" y="62.999999999999986" font-size="8.6" fill="#222">2.7</text>
<text x="581.8" y="240.2" font-size="11" font-weight="bold" fill="#111" textLength="167.3" lengthAdjust="spacingAndGlyphs">Intrinsic Reaction Coordinate (IRC)</text>
<text transform="translate(539.4,192.5) rotate(-90)" font-size="10.6" font-weight="bold" textLength="125.7" lengthAdjust="spacingAndGlyphs"><tspan fill="#3fe02a">Relative Energy</tspan><tspan fill="#111"> (kcal/mol)</tspan></text>
<text transform="translate(796.8,196) rotate(-90)" font-size="10.6" font-weight="bold" textLength="126" lengthAdjust="spacingAndGlyphs"><tspan fill="#2d9aab">O3’-C2</tspan><tspan fill="#111">/</tspan><tspan fill="#6a55dd">O3’-C3</tspan><tspan fill="#111"> Distance (Å)</tspan></text>
<rect x="656.5" y="38.2" width="99.2" height="30.1" fill="#fff" stroke="#222" stroke-width="1.1"/>
<line x1="664" y1="47" x2="688" y2="47" stroke="#222" stroke-width="1"/>
<line x1="663" y1="60" x2="686" y2="60" stroke="#222" stroke-width="1" stroke-dasharray="1.6,1.6"/>
<text x="689" y="50.5" font-size="10" font-weight="bold" font-style="italic" fill="#111">Gas Phase</text>
<text x="689" y="63.5" font-size="10" font-weight="bold" font-style="italic" fill="#111">Water (PCM)</text>
<path d="M565.3,56.6 C567.8,57.0 575.9,58.1 580.0,59.0 C584.1,59.9 587.2,60.6 590.0,61.8 C592.8,63.0 595.0,64.0 597.0,66.0 C599.0,68.0 600.2,70.0 601.8,73.7 C603.3,77.5 604.6,82.6 606.3,88.5 C608.0,94.4 610.0,102.8 612.2,109.2 C614.4,115.6 616.6,121.9 619.6,127.0 C622.6,132.1 627.3,136.8 630.0,140.0 C632.7,143.2 633.0,143.5 636.0,146.0 C639.0,148.5 644.0,152.3 648.0,155.0 C652.0,157.7 655.5,159.2 660.0,162.0 C664.5,164.8 670.1,168.5 675.0,172.0 C679.9,175.5 685.4,180.2 689.6,183.0 C693.8,185.8 696.1,187.0 700.0,189.0 C703.9,191.0 708.8,193.3 713.0,194.8 C717.2,196.3 721.0,197.1 725.0,197.8 C729.0,198.6 735.0,199.1 737.0,199.3" fill="none" stroke="#44e02c" stroke-width="2.4" stroke-linejoin="round"/>
<path d="M565.3,81.0 C567.8,81.5 575.0,83.0 580.0,84.0 C585.0,85.0 590.5,86.2 595.0,87.0 C599.5,87.8 603.5,87.5 607.0,88.5 C610.5,89.5 613.4,91.0 616.0,93.0 C618.6,95.0 620.7,97.8 622.5,100.3 C624.3,102.8 625.5,105.0 627.0,108.0 C628.5,111.0 629.7,113.4 631.4,118.0 C633.1,122.6 635.2,130.5 637.3,135.8 C639.4,141.1 641.5,147.0 644.0,150.0 C646.5,153.0 649.3,152.5 652.0,154.0 C654.7,155.5 656.2,156.3 660.0,159.0 C663.8,161.7 670.0,166.5 675.0,170.0 C680.0,173.5 685.8,177.2 690.0,180.0 C694.2,182.8 696.2,184.2 700.0,186.5 C703.8,188.8 708.8,191.7 713.0,193.5 C717.2,195.3 721.0,196.4 725.0,197.5 C729.0,198.6 733.5,198.6 737.0,200.0 C740.5,201.4 744.5,204.8 746.0,205.8" fill="none" stroke="#44e02c" stroke-width="2.7" stroke-linejoin="round" stroke-dasharray="0,4.4" stroke-linecap="round"/>
<path d="M565.3,71.8 C566.9,74.8 571.5,83.5 575.0,90.0 C578.5,96.5 582.8,105.0 586.0,111.0 C589.2,117.0 591.3,119.1 594.0,126.0 C596.7,132.9 599.8,145.9 602.0,152.6 C604.2,159.3 605.5,161.6 607.0,166.0 C608.5,170.4 609.8,175.5 611.0,179.0 C612.2,182.5 613.0,184.8 614.0,187.0 C615.0,189.2 615.7,190.7 617.0,192.0 C618.3,193.3 619.7,194.2 622.0,195.0 C624.3,195.8 626.0,196.3 630.7,196.9 C635.4,197.5 641.8,198.1 650.0,198.5 C658.2,198.9 670.0,199.3 680.0,199.6 C690.0,199.9 700.5,200.3 710.0,200.5 C719.5,200.7 732.5,200.7 737.0,200.7" fill="none" stroke="#6a55dd" stroke-width="2.4" stroke-linejoin="round"/>
<path d="M565.3,44.0 C566.9,47.5 570.9,57.8 575.0,65.0 C579.1,72.2 585.3,80.7 590.0,87.0 C594.7,93.3 598.8,96.5 603.0,103.0 C607.2,109.5 611.4,117.7 615.0,126.0 C618.6,134.3 622.0,145.3 624.5,152.6 C627.0,159.9 628.2,164.9 630.0,170.0 C631.8,175.1 633.2,179.1 635.0,183.0 C636.8,186.9 638.3,191.2 641.0,193.4 C643.7,195.6 644.9,195.6 651.4,196.4 C657.9,197.2 670.2,197.7 680.0,198.0 C689.8,198.3 699.2,198.2 710.0,198.3 C720.8,198.4 739.2,198.4 745.0,198.4" fill="none" stroke="#6a55dd" stroke-width="2.7" stroke-linejoin="round" stroke-dasharray="0,4.4" stroke-linecap="round"/>
<path d="M565.3,89.0 C566.4,90.5 569.5,95.0 572.0,98.0 C574.5,101.0 577.4,104.6 580.0,107.0 C582.6,109.4 585.1,112.8 587.6,112.6 C590.1,112.4 592.6,107.6 595.0,106.0 C597.4,104.4 599.2,103.5 602.0,103.0 C604.8,102.5 609.0,103.8 612.0,103.3 C615.0,102.8 616.8,101.7 620.0,100.0 C623.2,98.3 626.4,95.5 631.4,92.9 C636.4,90.3 645.2,86.3 650.0,84.5 C654.8,82.7 655.3,82.8 660.0,82.0 C664.7,81.2 671.6,80.3 678.0,80.0 C684.4,79.7 691.5,79.7 698.5,80.0 C705.5,80.3 713.6,81.3 720.0,82.0 C726.4,82.7 734.2,83.9 737.0,84.3" fill="none" stroke="#2d9aab" stroke-width="2.4" stroke-linejoin="round"/>
<path d="M565.3,68.0 C566.6,70.3 570.2,78.8 573.0,82.0 C575.8,85.2 578.5,85.4 582.0,87.0 C585.5,88.6 590.0,91.3 594.0,91.6 C598.0,91.9 601.6,89.7 606.0,89.0 C610.4,88.3 616.5,87.4 620.5,87.6 C624.5,87.8 627.1,89.0 630.0,90.0 C632.9,91.0 634.6,93.6 637.6,93.4 C640.6,93.2 644.3,90.6 648.0,89.0 C651.7,87.4 654.7,85.2 660.0,83.7 C665.3,82.2 673.3,80.7 680.0,80.0 C686.7,79.3 693.3,79.3 700.0,79.5 C706.7,79.7 712.6,80.3 720.0,81.0 C727.4,81.7 740.3,83.2 744.4,83.7" fill="none" stroke="#2d9aab" stroke-width="2.7" stroke-linejoin="round" stroke-dasharray="0,4.4" stroke-linecap="round"/>
<text x="724" y="92.6" font-size="10.2" font-weight="bold" text-anchor="middle" fill="#2d9aab" dy="3.6">O3’-C2</text>
<text x="723.7" y="174.6" font-size="10.2" font-weight="bold" text-anchor="middle" fill="#44e02c">Relative</text>
<text x="723.7" y="186.6" font-size="10.2" font-weight="bold" text-anchor="middle" fill="#44e02c">Energy</text>
<text x="723.7" y="214.6" font-size="10.2" font-weight="bold" text-anchor="middle" fill="#6a55dd">O3’-C3</text>
<text x="517.3" y="10.6" font-size="13.8" fill="#111">(B)</text>
</svg></body></html>
